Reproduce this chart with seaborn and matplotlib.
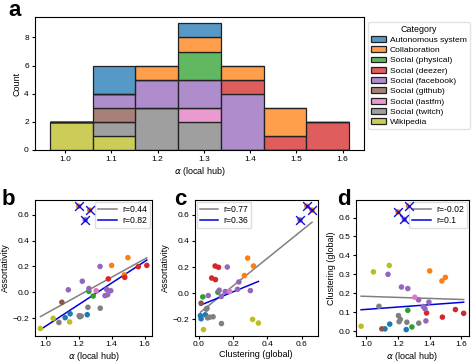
import numpy as np
import pandas as pd
import seaborn as sns
from matplotlib import pyplot as plt

plt.rcParams['font.family'] = ['Liberation Sans', 'DejaVu Sans']

categories = ["Autonomous system", "Collaboration", "Social (physical)", "Social (deezer)",
              "Social (facebook)", "Social (github)", "Social (lastfm)", "Social (twitch)",
              "Wikipedia"]

# one entry per network
category = (["Autonomous system"] * 3 + ["Collaboration"] * 5 + ["Social (physical)"] * 2
            + ["Social (deezer)"] * 4 + ["Social (facebook)"] * 9 + ["Social (github)"]
            + ["Social (lastfm)"] + ["Social (twitch)"] * 6 + ["Wikipedia"] * 3)
alpha = [1.118, 1.148, 1.252,
         1.200, 1.267, 1.400, 1.477, 1.499,
         1.262, 1.288,
         1.380, 1.480, 1.562, 1.614,
         1.137, 1.222, 1.240, 1.262, 1.330, 1.360, 1.370, 1.376, 1.395,
         1.098,
         1.306,
         1.080, 1.203, 1.207, 1.215, 1.256, 1.331,
         0.9675, 1.045, 1.145]
assortativity = [-0.195, -0.165, -0.172,
                 0.665, 0.635, 0.208, 0.135, 0.268,
                 0.008, -0.028,
                 0.104, 0.116, 0.198, 0.208,
                 0.020, 0.086, 0.560, 0.030, 0.200, -0.025, 0.023, -0.018, 0.013,
                 -0.076,
                 0.013,
                 -0.232, -0.180, -0.188, -0.183, -0.115, -0.122,
                 -0.278, -0.200, -0.228]
clustering = [0.012, 0.037, 0.008,
              0.630, 0.660, 0.318, 0.265, 0.284,
              0.110, 0.022,
              0.096, 0.074, 0.114, 0.094,
              0.300, 0.233, 0.590, 0.225, 0.165, 0.130, 0.118, 0.054, 0.153,
              0.012,
              0.179,
              0.131, 0.082, 0.050, 0.062, 0.047, 0.042,
              0.026, 0.313, 0.347]
outlier = [False] * 3 + [True, True, False, False, False] + [False] * 6 \
    + [False, False, True] + [False] * 6 + [False] * 11

r_all = {"b": "r=0.44", "c": "r=0.77", "d": "r=-0.02"}
r_clean = {"b": "r=0.82", "c": "r=0.36", "d": "r=0.1"}

df = pd.DataFrame({"Category": category, "alpha": alpha, "assort": assortativity,
                   "clust": clustering, "outlier": outlier})
clean = df[~df["outlier"]]
out = df[df["outlier"]]

palette = dict(zip(categories, sns.color_palette("tab10", 9)))
ALPHA_LABEL = r"$\alpha$ (local hub)"
LBL = 6.5
TICK = 6

fig = plt.figure(figsize=(4.74, 3.63), dpi=100)

# ---- a: stacked histogram
ax = fig.add_axes([0.074, 0.587, 0.694, 0.366])
sns.histplot(data=df, x="alpha", hue="Category", hue_order=categories, palette=palette,
             multiple="stack", bins=7, edgecolor="#222222", linewidth=0.9, ax=ax)
ax.set_xlabel(ALPHA_LABEL, fontsize=LBL, labelpad=1.5)
ax.set_ylabel("Count", fontsize=LBL, labelpad=2)
ax.set_yticks([0, 2, 4, 6, 8])
ax.tick_params(labelsize=TICK, length=2.5, pad=2)
sns.move_legend(ax, "upper left", bbox_to_anchor=(1.005, 0.985), title="Category",
                fontsize=6.1, title_fontsize=6.4, frameon=True, handlelength=1.7,
                handletextpad=0.5, labelspacing=0.28, borderpad=0.35, borderaxespad=0.3)
ax.get_legend().get_frame().set_edgecolor("#dddddd")

# ---- b, c, d: scatter + fits
panels = [
    ("b", "alpha", "assort", [0.074, 0.075, 0.247, 0.374], "upper right", ALPHA_LABEL, "Assortativity"),
    ("c", "clust", "assort", [0.411, 0.075, 0.259, 0.374], "upper left", "Clustering (global)", "Assortativity"),
    ("d", "alpha", "clust", [0.751, 0.075, 0.238, 0.374], "upper right", ALPHA_LABEL, "Clustering (global)"),
]
for key, xcol, ycol, rect, loc, xlabel, ylabel in panels:
    ax = fig.add_axes(rect)
    sns.scatterplot(data=df, x=xcol, y=ycol, hue="Category", palette=palette,
                    s=16, linewidth=0, legend=False, ax=ax, zorder=3)
    ax.scatter(out[xcol], out[ycol], marker="x", color="#1010e0", s=40, linewidth=1.0, zorder=7)
    sns.regplot(data=df, x=xcol, y=ycol, scatter=False, ci=None, color="#808080",
                line_kws={"lw": 1.1}, label=r_all[key], ax=ax)
    sns.regplot(data=clean, x=xcol, y=ycol, scatter=False, ci=None, color="#0000dd",
                line_kws={"lw": 1.1}, label=r_clean[key], ax=ax)
    ax.set_xlabel(xlabel, fontsize=LBL, labelpad=1)
    ax.set_ylabel(ylabel, fontsize=LBL, labelpad=2)
    ax.tick_params(labelsize=TICK, length=2.5, pad=1.5)
    leg = ax.legend(loc=loc, fontsize=6.2, handlelength=2.2, handletextpad=0.6,
                    labelspacing=0.3, borderpad=0.35, borderaxespad=0.2, framealpha=1)
    leg.get_frame().set_edgecolor("#dddddd")
    leg.set_zorder(5)
    if key == "c":
        ax.set_xticks([0.0, 0.2, 0.4, 0.6])
    else:
        ax.set_xticks([1.0, 1.2, 1.4, 1.6])
    if key == "d":
        ax.set_yticks(np.arange(0, 0.61, 0.1))

for label, x, y in [("a", 0.018, 1.0), ("b", 0.004, 0.478), ("c", 0.368, 0.478), ("d", 0.712, 0.478)]:
    fig.text(x, y, label, fontsize=16, fontweight="bold", va="top")

fig.savefig("out.png", dpi=100)
